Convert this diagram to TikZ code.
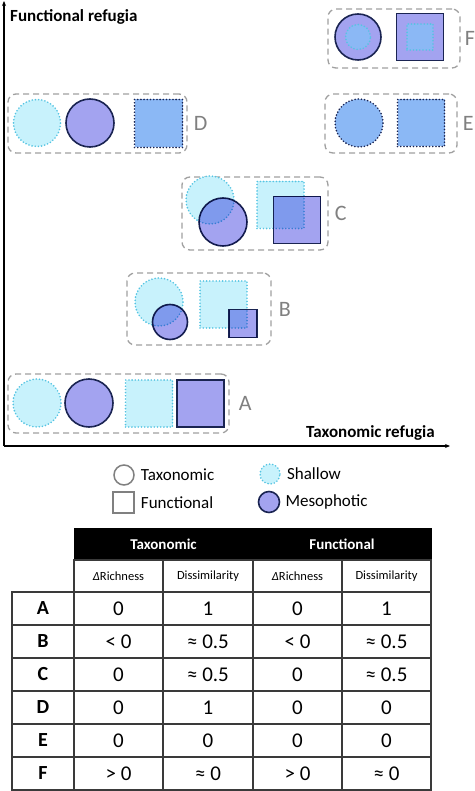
\documentclass[tikz,border=0pt]{standalone}
\usepackage{fontspec}
\setmainfont{Carlito}
\usepackage{xcolor}
\usepackage{tikz}
\usetikzlibrary{positioning,arrows.meta}

\definecolor{shalfill}{HTML}{C8F2FC}
\definecolor{shalline}{HTML}{55C4E2}
\definecolor{mesofill}{HTML}{A3A3F0}
\definecolor{mesoline}{HTML}{1A2452}
\definecolor{bothfill}{HTML}{8BB8F5}
\definecolor{groupline}{HTML}{A0A0A0}
\definecolor{gridline}{HTML}{3A3A3A}

\begin{document}
\begin{tikzpicture}[
  x=1pt, y=-1pt,
  shalc/.style={circle, draw=shalline, fill=shalfill, line width=1.8pt, dash pattern=on 0pt off 3.2pt, line cap=round, inner sep=0, minimum size=#1},
  mesoc/.style={circle, draw=mesoline, fill=mesofill, line width=1.6pt, inner sep=0, minimum size=#1},
  bothc/.style={circle, draw=mesoline, fill=bothfill, line width=1.8pt, dash pattern=on 0pt off 3.2pt, line cap=round, inner sep=0, minimum size=#1},
  shals/.style={rectangle, draw=shalline, fill=shalfill, line width=1.8pt, dash pattern=on 0pt off 3.2pt, line cap=round, inner sep=0, minimum size=#1},
  mesos/.style={rectangle, draw=mesoline, fill=mesofill, line width=1.6pt, inner sep=0, minimum size=#1},
  boths/.style={rectangle, draw=mesoline, fill=bothfill, line width=1.8pt, dash pattern=on 0pt off 3.2pt, line cap=round, inner sep=0, minimum size=#1},
  group/.style={draw=groupline, dash pattern=on 6pt off 4pt, line width=1.3pt, rounded corners=8pt, inner sep=0},
  glabel/.style={text=gray, font=\fontsize{22}{22}\selectfont, inner sep=0},
  axis/.style={-{Stealth[length=5pt,width=4pt]}, line width=1.5pt},
  axtitle/.style={font=\fontsize{17}{17}\selectfont\bfseries, inner sep=0},
  legtext/.style={font=\fontsize{17}{17}\selectfont, inner sep=0},
  cell/.style={draw=gridline, line width=1.1pt, minimum height=33, inner sep=0, font=\fontsize{21}{21}\selectfont},
  subcell/.style={draw=gridline, line width=1.1pt, minimum height=32, minimum width=89, inner sep=0, font=\fontsize{12.5}{12.5}\selectfont},
  headcell/.style={draw=black, fill=black, text=white, minimum height=32, minimum width=178.5, inner sep=0, font=\fontsize{15}{15}\selectfont\bfseries}
]
\useasboundingbox (0,0) rectangle (474,791);

% axes
\coordinate (origin) at (4,446);
\coordinate (ytop) at (4,1);
\coordinate (xend) at (450,446);
\draw[axis] (origin) -- (ytop);
\draw[axis] (origin) -- (xend);
\node[axtitle, anchor=west] (ytitle) at (10,17) {Functional refugia};
\node[axtitle, anchor=east] (xtitle) at (435,433) {Taxonomic refugia};

% F
\node[group, minimum width=132, minimum height=59] (grpF) at (394,38.5) {};
\node[mesoc=46] (Fc) at (358,37) {};
\node[bothc=25, draw=shalline] (Fci) at (358,37) {};
\node[mesos=47] (Fs) at (420,37) {};
\node[boths=26, draw=shalline] (Fsi) at (420,37) {};
\node[glabel, right=4pt of grpF] (labF) {F};

% E
\node[group, minimum width=132, minimum height=59] (grpE) at (391,123.5) {};
\node[bothc=48] (Ec) at (359,123) {};
\node[boths=47] (Es) at (421,123) {};
\node[glabel, right=5pt of grpE] (labE) {E};

% D
\node[group, minimum width=179, minimum height=59] (grpD) at (97.5,123.5) {};
\node[shalc=47] (Dc1) at (37,123) {};
\node[mesoc=48] (Dc2) at (90,123) {};
\node[boths=48] (Ds) at (158.5,123.5) {};
\node[glabel, right=6pt of grpD] (labD) {D};

% C
\node[group, minimum width=146, minimum height=73] (grpC) at (255,213.5) {};
\node[shalc=48] (Cc1) at (210,200) {};
\node[mesoc=48, blend mode=multiply] (Cc2) at (223,222) {};
\node[shals=47] (Cs1) at (280.5,205) {};
\node[mesos=47, blend mode=multiply] (Cs2) at (297,220) {};
\node[glabel, right=6pt of grpC] (labC) {C};

% B
\node[group, minimum width=144, minimum height=72] (grpB) at (199,309) {};
\node[shalc=48] (Bc1) at (159,302) {};
\node[mesoc=35, blend mode=multiply] (Bc2) at (170,322) {};
\node[shals=47] (Bs1) at (223.5,304.5) {};
\node[mesos=28, blend mode=multiply] (Bs2) at (243,323.5) {};
\node[glabel, right=7pt of grpB] (labB) {B};

% A
\node[group, minimum width=221, minimum height=59] (grpA) at (118.5,403.5) {};
\node[shalc=48] (Ac1) at (37,403) {};
\node[mesoc=48] (Ac2) at (89,403) {};
\node[shals=47] (As1) at (149,403.5) {};
\node[mesos=47] (As2) at (200.5,403.5) {};
\node[glabel, right=9pt of grpA] (labA) {A};

% legend
\node[circle, draw=gray, line width=1.5pt, minimum size=20, inner sep=0] (legtax) at (124,475) {};
\node[legtext, right=6pt of legtax] {Taxonomic};
\node[rectangle, draw=gray, line width=1.5pt, minimum size=21, inner sep=0] (legfun) at (123.5,502.5) {};
\node[legtext, right=6pt of legfun] {Functional};
\node[shalc=20] (legshal) at (270,474) {};
\node[legtext, right=6pt of legshal] {Shallow};
\node[mesoc=21] (legmeso) at (269,502) {};
\node[legtext, right=5pt of legmeso] {Mesophotic};

% table
\node[headcell] (htax) at (163.5,544) {Taxonomic};
\node[headcell] (hfun) at (342,544) {Functional};
\node[subcell] (s1) at (118.5,576) {\textit{Δ}Richness};
\node[subcell] (s2) at (208,576) {Dissimilarity};
\node[subcell] (s3) at (297.5,576) {\textit{Δ}Richness};
\node[subcell] (s4) at (386.5,576) {Dissimilarity};
\foreach \r/\a/\b/\c/\d [count=\i from 0] in
  {A/0/1/0/1, B/< 0/≈ 0.5/< 0/≈ 0.5, C/0/≈ 0.5/0/≈ 0.5,
   D/0/1/0/0, E/0/0/0/0, F/> 0/≈ 0/> 0/≈ 0}
{
  \node[cell, minimum width=62, font=\fontsize{20}{20}\selectfont\bfseries] (\r0) at (43,608.5+33*\i) {\r};
  \node[cell, minimum width=89] (\r1) at (118.5,608.5+33*\i) {\a};
  \node[cell, minimum width=90] (\r2) at (208,608.5+33*\i) {\b};
  \node[cell, minimum width=89] (\r3) at (297.5,608.5+33*\i) {\c};
  \node[cell, minimum width=89] (\r4) at (386.5,608.5+33*\i) {\d};
}
\end{tikzpicture}
\end{document}
